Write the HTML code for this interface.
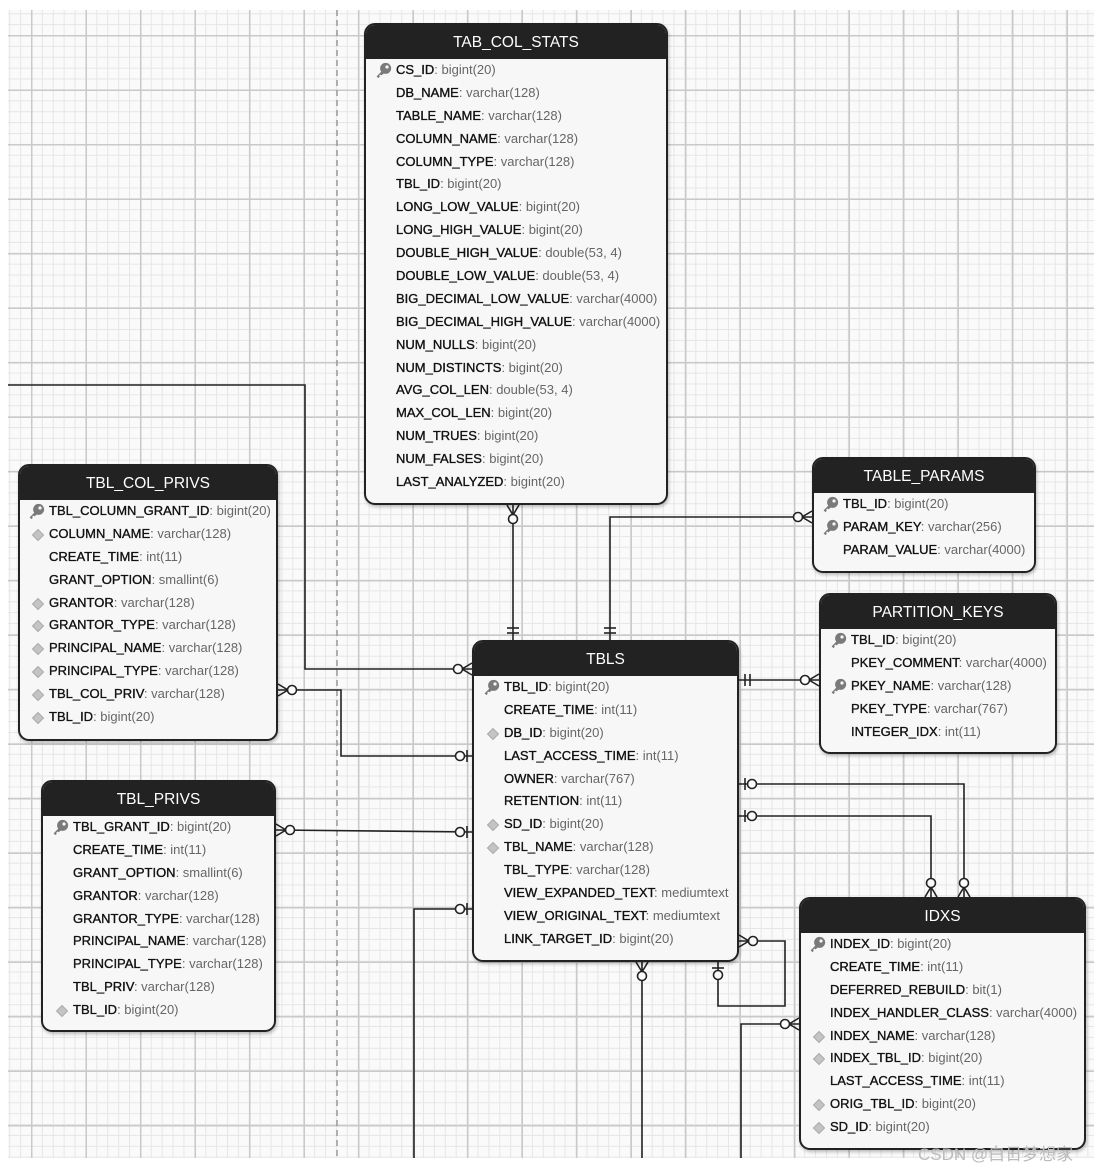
<!DOCTYPE html>
<html><head><meta charset="utf-8">
<style>
html,body{margin:0;padding:0;}
body{width:1104px;height:1171px;position:relative;overflow:hidden;background:#fff;font-family:"Liberation Sans","Noto Sans CJK SC",sans-serif;}
#grid{position:absolute;left:8px;top:10px;width:1086px;height:1148px;background-color:#fafafa;
background-image:
linear-gradient(to right,#c9c9c9 1.5px,transparent 1.5px),
linear-gradient(to bottom,#c9c9c9 1.5px,transparent 1.5px),
linear-gradient(to right,#e6e6e6 1px,transparent 1px),
linear-gradient(to bottom,#e6e6e6 1px,transparent 1px);
background-size:54.5px 54.5px,54.5px 54.5px,10.9px 10.9px,10.9px 10.9px;
background-position:23px 25px,23px 25px,1.2px 3.2px,1.2px 3.2px;}
.t{position:absolute;border:2px solid #222;border-radius:11px;background:#f7f7f7;box-sizing:border-box;overflow:hidden;box-shadow:1px 2px 3px rgba(0,0,0,.25);}
.h{background:#222;color:#fff;font-size:15.5px;text-align:center;height:34px;line-height:36px;}
.r{height:22.9px;line-height:22.9px;font-size:13px;white-space:nowrap;position:relative;color:#111;}
.r b{font-weight:normal;-webkit-text-stroke:0.35px #111;}
.r i{font-style:normal;color:#666;}
.ic{position:absolute;top:3px;}
svg#c{position:absolute;left:0;top:0;}
.wm{position:absolute;left:918px;top:1140px;font-size:17px;color:#bbb;}
</style></head><body>
<div id="grid"></div>
<svg id="c" width="1104" height="1171" viewBox="0 0 1104 1171" fill="none" stroke="#222" stroke-width="1.6">
<line x1="337" y1="10" x2="337" y2="1158" stroke="#999" stroke-dasharray="6,4" stroke-width="1.5"/>
<polyline points="8,385 305,385 305,669 472,669"/>
<path d="M472,663 L462,669 L472,675"/><circle cx="458" cy="669" r="4.5" fill="#fafafa"/>
<polyline points="278,690 341,690 341,756 472,756"/>
<path d="M278,684 L288,690 L278,696"/><circle cx="292" cy="690" r="4.5" fill="#fafafa"/>
<circle cx="460" cy="756" r="4.5" fill="#fafafa"/><line x1="467" y1="750" x2="467" y2="762"/>
<polyline points="276,830 472,832"/>
<path d="M276,824 L286,830 L276,836"/><circle cx="290" cy="830" r="4.5" fill="#fafafa"/>
<circle cx="460" cy="832" r="4.5" fill="#fafafa"/><line x1="467" y1="826" x2="467" y2="838"/>
<polyline points="414,1158 414,909 472,909"/>
<circle cx="460" cy="909" r="4.5" fill="#fafafa"/><line x1="467" y1="903" x2="467" y2="915"/>
<line x1="513" y1="505" x2="513" y2="640"/>
<path d="M507,505 L513,515 L519,505"/><circle cx="513" cy="519" r="4.5" fill="#fafafa"/>
<line x1="507" y1="628" x2="519" y2="628"/><line x1="507" y1="633" x2="519" y2="633"/>
<polyline points="610,640 610,517 812,517"/>
<line x1="604" y1="628" x2="616" y2="628"/><line x1="604" y1="633" x2="616" y2="633"/>
<path d="M812,511 L802,517 L812,523"/><circle cx="798" cy="517" r="4.5" fill="#fafafa"/>
<line x1="739" y1="680" x2="819" y2="680"/>
<line x1="745" y1="674" x2="745" y2="686"/><line x1="750" y1="674" x2="750" y2="686"/>
<path d="M819,674 L809,680 L819,686"/><circle cx="805" cy="680" r="4.5" fill="#fafafa"/>
<polyline points="739,784 964,784 964,897"/>
<line x1="745" y1="778" x2="745" y2="790"/><circle cx="752" cy="784" r="4.5" fill="#fafafa"/>
<path d="M958,897 L964,887 L970,897"/><circle cx="964" cy="883" r="4.5" fill="#fafafa"/>
<polyline points="739,816 931,816 931,897"/>
<line x1="745" y1="810" x2="745" y2="822"/><circle cx="752" cy="816" r="4.5" fill="#fafafa"/>
<path d="M925,897 L931,887 L937,897"/><circle cx="931" cy="883" r="4.5" fill="#fafafa"/>
<polyline points="739,941 785,941 785,1006 718,1006 718,962"/>
<path d="M739,935 L749,941 L739,947"/><circle cx="753" cy="941" r="4.5" fill="#fafafa"/>
<line x1="712" y1="968" x2="724" y2="968"/><circle cx="718" cy="975" r="4.5" fill="#fafafa"/>
<line x1="642" y1="962" x2="642" y2="1158"/>
<path d="M636,962 L642,972 L648,962"/><circle cx="642" cy="976" r="4.5" fill="#fafafa"/>
<polyline points="799,1024 741,1024 741,1158"/>
<path d="M799,1018 L789,1024 L799,1030"/><circle cx="785" cy="1024" r="4.5" fill="#fafafa"/>
</svg>

<div id="tables"></div>
<div class="wm">CSDN @白日梦想家</div>
<script>
const K='<svg class="ic" width="17" height="17" viewBox="0 0 16 16"><circle cx="10" cy="6" r="5.2" fill="#7a7a7a"/><circle cx="11.3" cy="4.7" r="1.5" fill="#f7f7f7"/><path d="M7 8 L1.5 13.5 L3.2 15.2 L4.6 13.8 L3.8 13 L5.2 11.8 L6 12.6 L9.5 10" fill="#7a7a7a"/></svg>';
const D='<svg class="ic" width="14" height="14" viewBox="0 0 14 14" style="top:5px"><path d="M7 1.5 L12.5 7 L7 12.5 L1.5 7Z" fill="#c4c4c4" stroke="#aaa" stroke-width="1"/></svg>';
const T=[
["TAB_COL_STATS",364,23,304,482,32,[["k","CS_ID","bigint(20)"],["","DB_NAME","varchar(128)"],["","TABLE_NAME","varchar(128)"],["","COLUMN_NAME","varchar(128)"],["","COLUMN_TYPE","varchar(128)"],["","TBL_ID","bigint(20)"],["","LONG_LOW_VALUE","bigint(20)"],["","LONG_HIGH_VALUE","bigint(20)"],["","DOUBLE_HIGH_VALUE","double(53, 4)"],["","DOUBLE_LOW_VALUE","double(53, 4)"],["","BIG_DECIMAL_LOW_VALUE","varchar(4000)"],["","BIG_DECIMAL_HIGH_VALUE","varchar(4000)"],["","NUM_NULLS","bigint(20)"],["","NUM_DISTINCTS","bigint(20)"],["","AVG_COL_LEN","double(53, 4)"],["","MAX_COL_LEN","bigint(20)"],["","NUM_TRUES","bigint(20)"],["","NUM_FALSES","bigint(20)"],["","LAST_ANALYZED","bigint(20)"]]],
["TBL_COL_PRIVS",18,464,260,277,31,[["k","TBL_COLUMN_GRANT_ID","bigint(20)"],["d","COLUMN_NAME","varchar(128)"],["","CREATE_TIME","int(11)"],["","GRANT_OPTION","smallint(6)"],["d","GRANTOR","varchar(128)"],["d","GRANTOR_TYPE","varchar(128)"],["d","PRINCIPAL_NAME","varchar(128)"],["d","PRINCIPAL_TYPE","varchar(128)"],["d","TBL_COL_PRIV","varchar(128)"],["d","TBL_ID","bigint(20)"]]],
["TBL_PRIVS",41,780,235,252,32,[["k","TBL_GRANT_ID","bigint(20)"],["","CREATE_TIME","int(11)"],["","GRANT_OPTION","smallint(6)"],["","GRANTOR","varchar(128)"],["","GRANTOR_TYPE","varchar(128)"],["","PRINCIPAL_NAME","varchar(128)"],["","PRINCIPAL_TYPE","varchar(128)"],["","TBL_PRIV","varchar(128)"],["d","TBL_ID","bigint(20)"]]],
["TABLE_PARAMS",812,457,224,116,31,[["k","TBL_ID","bigint(20)"],["k","PARAM_KEY","varchar(256)"],["","PARAM_VALUE","varchar(4000)"]]],
["PARTITION_KEYS",819,593,238,161,32,[["k","TBL_ID","bigint(20)"],["","PKEY_COMMENT","varchar(4000)"],["k","PKEY_NAME","varchar(128)"],["","PKEY_TYPE","varchar(767)"],["","INTEGER_IDX","int(11)"]]],
["TBLS",472,640,267,322,32,[["k","TBL_ID","bigint(20)"],["","CREATE_TIME","int(11)"],["d","DB_ID","bigint(20)"],["","LAST_ACCESS_TIME","int(11)"],["","OWNER","varchar(767)"],["","RETENTION","int(11)"],["d","SD_ID","bigint(20)"],["d","TBL_NAME","varchar(128)"],["","TBL_TYPE","varchar(128)"],["","VIEW_EXPANDED_TEXT","mediumtext"],["","VIEW_ORIGINAL_TEXT","mediumtext"],["","LINK_TARGET_ID","bigint(20)"]]],
["IDXS",799,897,287,253,31,[["k","INDEX_ID","bigint(20)"],["","CREATE_TIME","int(11)"],["","DEFERRED_REBUILD","bit(1)"],["","INDEX_HANDLER_CLASS","varchar(4000)"],["d","INDEX_NAME","varchar(128)"],["d","INDEX_TBL_ID","bigint(20)"],["","LAST_ACCESS_TIME","int(11)"],["d","ORIG_TBL_ID","bigint(20)"],["d","SD_ID","bigint(20)"]]]
];
let h='';
for(const [n,x,y,w,ht,pad,rows] of T){
 h+=`<div class="t" style="left:${x}px;top:${y}px;width:${w}px;height:${ht}px"><div class="h">${n}</div><div class="rows">`;
 for(const [ic,a,b] of rows){
  h+=`<div class="r" style="padding-left:${pad-2}px">`+(ic=='k'?K.replace('class="ic"','class="ic" style="left:'+(pad-23)+'px"'):ic=='d'?D.replace('class="ic"','class="ic" style="top:5px;left:'+(pad-20)+'px"'):'')+`<b>${a}</b><i>: ${b}</i></div>`;
 }
 h+='</div></div>';
}
document.getElementById('tables').innerHTML=h;
</script>
</body></html>
